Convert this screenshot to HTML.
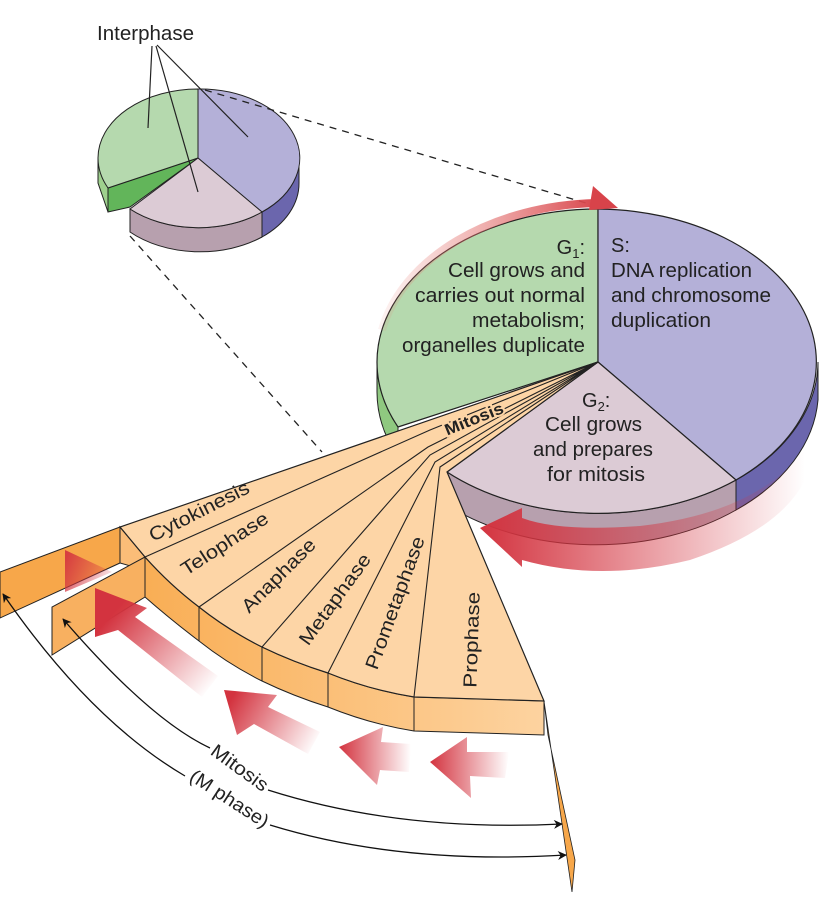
<!DOCTYPE html>
<html><head><meta charset="utf-8"><style>
html,body{margin:0;padding:0;background:#fff}
svg{display:block}
text{font-family:"Liberation Sans Narrow","Liberation Sans",sans-serif;fill:#222}
</style></head><body>
<svg width="828" height="897" viewBox="0 0 828 897" xmlns="http://www.w3.org/2000/svg">
<defs>
<linearGradient id="rh" x1="0" y1="0" x2="1" y2="0"><stop offset="0" stop-color="#d3333f"/><stop offset="1" stop-color="#d3333f" stop-opacity="0"/></linearGradient>
<linearGradient id="topArr" gradientUnits="userSpaceOnUse" x1="380" y1="0" x2="600" y2="0"><stop offset="0" stop-color="#e8857c" stop-opacity="0.1"/><stop offset="1" stop-color="#d8434a"/></linearGradient>
<linearGradient id="botArr" gradientUnits="userSpaceOnUse" x1="480" y1="0" x2="805" y2="0"><stop offset="0" stop-color="#d3333f"/><stop offset="1" stop-color="#d3333f" stop-opacity="0"/></linearGradient>
<linearGradient id="a4" gradientUnits="userSpaceOnUse" x1="100" y1="595" x2="210" y2="690"><stop offset="0.15" stop-color="#d3333f"/><stop offset="1" stop-color="#d3333f" stop-opacity="0"/></linearGradient>
<linearGradient id="a3" gradientUnits="userSpaceOnUse" x1="224" y1="690" x2="318" y2="742"><stop offset="0.1" stop-color="#d3333f"/><stop offset="1" stop-color="#d3333f" stop-opacity="0"/></linearGradient>
<linearGradient id="a5" gradientUnits="userSpaceOnUse" x1="65" y1="560" x2="112" y2="580"><stop offset="0" stop-color="#d3333f" stop-opacity="0.9"/><stop offset="1" stop-color="#d3333f" stop-opacity="0.1"/></linearGradient>
<linearGradient id="band" x1="0" y1="0" x2="1" y2="0"><stop offset="0" stop-color="#f9ae55"/><stop offset="1" stop-color="#fdd3a0"/></linearGradient>
<marker id="ah" viewBox="0 0 10 10" refX="9" refY="5" markerWidth="9" markerHeight="9" orient="auto-start-reverse" markerUnits="userSpaceOnUse"><path d="M0,0 L10,5 L0,10 L3,5 Z" fill="#111"/></marker>
</defs>

<!-- Interphase small pie -->
<text x="97" y="40" font-size="20" textLength="97" lengthAdjust="spacingAndGlyphs">Interphase</text>
<!-- small pie sides -->
<path d="M98,158 L98,183 L108,212 L108,188 Z" fill="#9fd08e" stroke="#222" stroke-width="1"/>
<path d="M108,188 L198,158 L130,207 L108,212 Z" fill="#62b55a" stroke="#222" stroke-width="1"/>
<path d="M262,212 A100,69 0 0 0 299,158 L299,183 A100,69 0 0 1 262,237 Z" fill="#6b66ad" stroke="#222" stroke-width="1"/>
<path d="M130,209 A100,69 0 0 0 262,212 L262,237 A100,69 0 0 1 130,232 Z" fill="#b7a0ae" stroke="#222" stroke-width="1"/>
<!-- small pie tops -->
<path d="M198,158 L198,89 A100,69 0 0 0 98,158 A100,69 0 0 0 108,188 Z" fill="#b5d9ae" stroke="#222" stroke-width="1"/>
<path d="M198,158 L198,89 A100,69 0 0 1 262,212 Z" fill="#b4b0d8" stroke="#222" stroke-width="1"/>
<path d="M198,158 L130,209 A100,69 0 0 0 262,212 Z" fill="#dccbd5" stroke="#222" stroke-width="1"/>
<path d="M152,46 L148,128 M156,46 L198,192 M157,45 L248,137" stroke="#222" stroke-width="1.2" fill="none"/>
<!-- dashed -->
<path d="M205,90 L596,206 M130,236 L322,452" stroke="#222" stroke-width="1.3" stroke-dasharray="7,6" fill="none"/>

<!-- big pie side -->
<path d="M377,362 L377,392 A221,153 0 0 0 398,457 L398,427 A221,153 0 0 1 377,362 Z" fill="#8fc880" stroke="#222" stroke-width="1"/>
<path d="M736,480 A221,153 0 0 0 818,362 L818,400 A221,153 0 0 1 736,510 Z" fill="#6b66ad" stroke="#222" stroke-width="1"/>
<path d="M447,472 A221,153 0 0 0 736,480 L736,510 A221,153 0 0 1 447,505 Z" fill="#b7a0ae" stroke="#222" stroke-width="1"/>
<!-- big pie tops -->
<path d="M598,362 L598,209 A221,153 0 0 0 377,362 A221,153 0 0 0 398,427 Z" fill="#b5d9ae" stroke="#222" stroke-width="1.2"/>
<path d="M598,362 L598,209 A221,153 0 0 1 736,480 Z" fill="#b4b0d8" stroke="#222" stroke-width="1.2"/>
<path d="M598,362 L447,472 A221,153 0 0 0 736,480 Z" fill="#dccbd5" stroke="#222" stroke-width="1.2"/>

<!-- top red arrow -->
<path d="M382,330 A226,158 0 0 1 596,203" stroke="url(#topArr)" stroke-width="8" fill="none"/>
<path d="M593,186 L618,208 L589,210 Z" fill="#d8434a"/>
<!-- bottom red arrow -->
<path d="M805,448 Q760,512 640,526 Q560,532 522,518 L522,508 L480,528 L522,567 L522,560 Q600,582 690,560 Q780,530 805,480 Z" fill="url(#botArr)"/>

<!-- pie text -->
<g font-size="20">
<text x="585" y="254" text-anchor="end">G<tspan font-size="13" dy="4">1</tspan><tspan dy="-4">:</tspan></text>
<text x="585" y="277" text-anchor="end" textLength="137" lengthAdjust="spacingAndGlyphs">Cell grows and</text>
<text x="585" y="302" text-anchor="end" textLength="170" lengthAdjust="spacingAndGlyphs">carries out normal</text>
<text x="585" y="327" text-anchor="end" textLength="113" lengthAdjust="spacingAndGlyphs">metabolism;</text>
<text x="585" y="352" text-anchor="end" textLength="183" lengthAdjust="spacingAndGlyphs">organelles duplicate</text>
<text x="611" y="252">S:</text>
<text x="611" y="277" textLength="141" lengthAdjust="spacingAndGlyphs">DNA replication</text>
<text x="611" y="302" textLength="160" lengthAdjust="spacingAndGlyphs">and chromosome</text>
<text x="611" y="327" textLength="100" lengthAdjust="spacingAndGlyphs">duplication</text>
<text x="582" y="407">G<tspan font-size="13" dy="4">2</tspan><tspan dy="-4">:</tspan></text>
<text x="545" y="431" textLength="97" lengthAdjust="spacingAndGlyphs">Cell grows</text>
<text x="533" y="456" textLength="120" lengthAdjust="spacingAndGlyphs">and prepares</text>
<text x="547" y="481" textLength="98" lengthAdjust="spacingAndGlyphs">for mitosis</text>
</g>

<!-- cytokinesis strips -->
<path d="M120,527 L0,572 L0,618 L120,563 Z" fill="#f7a74a" stroke="#222" stroke-width="1"/>
<path d="M120,527 L145,557 L145,570 L120,563 Z" fill="#fbbd78" stroke="#222" stroke-width="1"/>
<path d="M145,557 L52,607 L52,655 L145,597 Z" fill="#f8b060" stroke="#222" stroke-width="1"/>
<path d="M65,550 L112,572 L65,592 Z" fill="url(#a5)"/>

<!-- fan band -->
<path d="M145,557 Q170,585 199,607 Q228,630 262,647 Q293,662 328,673 Q370,690 414,697 L544,701 L544,735 L414,731 Q370,724 328,707 Q293,696 262,681 Q228,664 199,641 Q170,619 145,597 Z" fill="url(#band)" stroke="#222" stroke-width="1"/>
<path d="M199,607 L199,641 M262,647 L262,681 M328,673 L328,707 M414,697 L414,731" stroke="#222" stroke-width="1"/>
<!-- fan top -->
<path d="M598,362 L120,527 L145,557 Q170,585 199,607 Q228,630 262,647 Q293,662 328,673 Q370,690 414,697 L544,701 L447,472 Z" fill="#fdd5a6" stroke="#222" stroke-width="1.2"/>
<path d="M598,362 L430,430 L145,557 M598,362 L428,447 L199,607 M598,362 L430,455 L262,647 M598,362 L435,462 L328,673 M598,362 L440,467 L414,697" stroke="#222" stroke-width="1.1" fill="none"/>
<text transform="translate(476,424) rotate(-22)" font-size="16" font-weight="bold" text-anchor="middle" textLength="62" lengthAdjust="spacingAndGlyphs" stroke="#fdd5a6" stroke-width="4" paint-order="stroke">Mitosis</text>

<!-- thin orange sliver -->
<path d="M544,701 L548,735 L575,860 L572,892 Z" fill="#f7a74a" stroke="#222" stroke-width="0.8"/>

<!-- fan labels -->
<g font-size="19">
<text transform="translate(202,517) rotate(-27)" text-anchor="middle" textLength="110" lengthAdjust="spacingAndGlyphs">Cytokinesis</text>
<text transform="translate(228,549) rotate(-33)" text-anchor="middle" textLength="100" lengthAdjust="spacingAndGlyphs">Telophase</text>
<text transform="translate(283,580) rotate(-45)" text-anchor="middle" textLength="96" lengthAdjust="spacingAndGlyphs">Anaphase</text>
<text transform="translate(340,603) rotate(-54)" text-anchor="middle" textLength="108" lengthAdjust="spacingAndGlyphs">Metaphase</text>
<text transform="translate(401,605) rotate(-70)" text-anchor="middle" textLength="140" lengthAdjust="spacingAndGlyphs">Prometaphase</text>
<text transform="translate(478,640) rotate(-88)" text-anchor="middle" textLength="96" lengthAdjust="spacingAndGlyphs">Prophase</text>
</g>

<!-- red arrows below band -->
<path d="M95,588 L147,608 L135,617 L218,676 L202,697 L118,630 L95,637 Z" fill="url(#a4)"/>
<path d="M224,690 L277,695 L268,707 L320,732 L308,754 L254,724 L237,735 Z" fill="url(#a3)"/>
<path d="M339,747 L383,727 L381,742 L411,744 L409,772 L380,770 L377,785 Z" fill="url(#rh)"/>
<path d="M430,762 L467,737 L467,752 L509,752 L505,778 L470,776 L471,798 Z" fill="url(#rh)"/>

<!-- mitosis arcs -->
<path d="M63,619 Q150,720 210,748" stroke="#111" stroke-width="1.3" fill="none" marker-start="url(#ah)"/>
<path d="M268,790 Q400,832 562,824" stroke="#111" stroke-width="1.3" fill="none" marker-end="url(#ah)"/>
<path d="M3,594 Q90,720 185,776" stroke="#111" stroke-width="1.3" fill="none" marker-start="url(#ah)"/>
<path d="M270,825 Q400,865 566,855" stroke="#111" stroke-width="1.3" fill="none" marker-end="url(#ah)"/>
<g font-size="19">
<text transform="translate(236,773) rotate(36)" text-anchor="middle" textLength="66" lengthAdjust="spacingAndGlyphs">Mitosis</text>
<text transform="translate(226,804) rotate(33)" text-anchor="middle" textLength="90" lengthAdjust="spacingAndGlyphs">(M phase)</text>
</g>
</svg>
</body></html>
